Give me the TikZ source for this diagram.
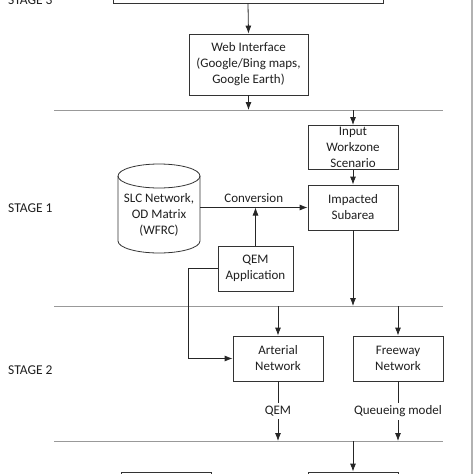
\documentclass[tikz,border=0pt]{standalone}
\usepackage{fontspec}
\setmainfont{Carlito}
\usetikzlibrary{arrows.meta}
\begin{document}
\begin{tikzpicture}[x=1pt,y=-1pt,
  boxn/.style={draw=black!80,line width=0.8pt,align=center,font=\fontsize{13}{16}\selectfont,text=black!88,inner sep=0pt},
  sep/.style={draw=black!40,line width=0.9pt},
  conn/.style={draw=black!85,line width=0.8pt},
  arr/.style={conn,-{Latex[length=8pt,width=6pt]}},
  lab/.style={font=\fontsize{13}{16}\selectfont,text=black!88,inner sep=1pt},
  stagelab/.style={font=\fontsize{13.5}{16}\selectfont,text=black!88,anchor=west,inner sep=0pt}]
\useasboundingbox (0,0) rectangle (474,474);
\clip (0,0) rectangle (474,474);
% separators
\draw[sep] (54,110) coordinate (s1a) -- (443,110) coordinate (s1b);
\draw[sep] (54,306) coordinate (s2a) -- (443,306) coordinate (s2b);
\draw[sep] (54,441) coordinate (s3a) -- (443,441) coordinate (s3b);
\draw[draw=black!30,line width=1.4pt] (472,0) coordinate (ra) -- (472,474) coordinate (rb);
% stage labels
\node[stagelab] (st3) at (8,0) {STAGE 3};
\node[stagelab] (st1) at (8,208) {STAGE 1};
\node[stagelab] (st2) at (8,370) {STAGE 2};
% boxes
\node[boxn,minimum width=270pt,minimum height=46pt] (top) at (248,-20) {};
\node[boxn,minimum width=119pt,minimum height=61pt] (web) at (248.5,64.5) {Web Interface\\(Google/Bing maps,\\Google Earth)};
\node[boxn,minimum width=90pt,minimum height=44pt] (input) at (353,147.5) {Input\\Workzone\\Scenario};
\node[boxn,minimum width=90pt,minimum height=45pt] (impact) at (353,207.5) {Impacted\\Subarea};
\node[boxn,minimum width=75pt,minimum height=45pt] (qem) at (255.5,268.5) {QEM\\Application};
\node[boxn,minimum width=90pt,minimum height=45pt] (art) at (278,358.5) {Arterial\\Network};
\node[boxn,minimum width=90pt,minimum height=45pt] (fwy) at (398,358.5) {Freeway\\Network};
\node[boxn,minimum width=90pt,minimum height=46pt] (bl) at (166,495) {};
\node[boxn,minimum width=90pt,minimum height=46pt] (br) at (353,495) {};
% cylinder
\draw[draw=black!80,line width=0.8pt,fill=white] (118,176) -- (118,241) arc[start angle=180,end angle=0,x radius=41,y radius=12] -- (200,176);
\draw[draw=black!80,line width=0.8pt] (159,176) ellipse[x radius=41,y radius=12];
\node[boxn,draw=none] (cyl) at (159,215) {SLC Network,\\OD Matrix\\(WFRC)};
\coordinate (cylE) at (200,207.5);
% connectors
\draw[arr] (top.south) -- (web.north);
\draw[arr] (web.south) -- (web.south |- s1a);
\draw[arr] (input.north |- s1a) -- (input.north);
\draw[arr] (input.south) -- (impact.north);
\draw[arr] (cylE) -- node[lab,above=4pt] {Conversion} (impact.west);
\draw[arr] (qem.north) -- (qem.north |- impact.west);
\coordinate (qc1) at (188,268.5);
\coordinate (qc2) at (188,358.5);
\draw[arr] (qem.west) -- (qc1) -- (qc2) -- (art.west);
\draw[arr] (impact.south) -- (impact.south |- s2a);
\draw[arr] (art.north |- s2a) -- (art.north);
\draw[arr] (fwy.north |- s2a) -- (fwy.north);
\draw[arr] (art.south) -- node[lab,fill=white,inner sep=3pt] {QEM} (art.south |- s3a);
\draw[arr] (fwy.south) -- node[lab,fill=white,inner sep=3pt] {Queueing model} (fwy.south |- s3a);
\draw[arr] (br.north |- s3a) -- (br.north);
\end{tikzpicture}
\end{document}
